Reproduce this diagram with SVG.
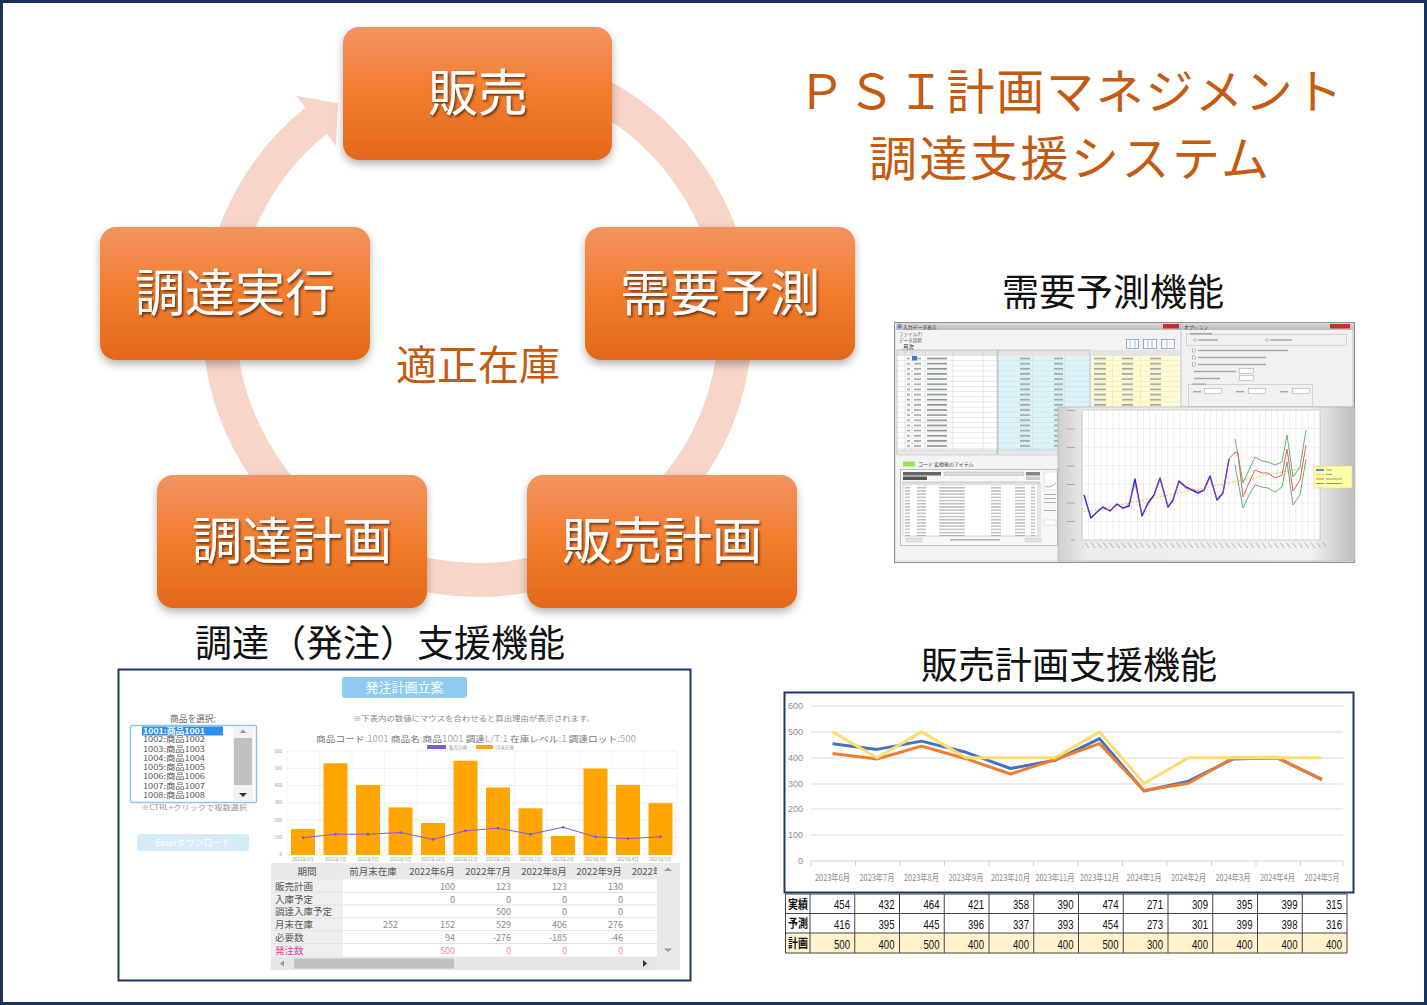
<svg xmlns="http://www.w3.org/2000/svg" width="1427" height="1005" viewBox="0 0 1427 1005">
<defs>
<style>
.jp{font-family:"Noto Sans CJK JP","Noto Sans",sans-serif}
.bt{font-size:50px;fill:#fff;text-anchor:middle;filter:url(#ts)}
.cap{font-size:37px;fill:#111;text-anchor:middle}
.ttl{font-size:48px;fill:#c55a11;text-anchor:middle}
.box{fill:url(#og);filter:url(#bs)}
.s2l{font-size:9.5px;fill:#555}
.s2v{font-size:9px;fill:#8a8a8a;text-anchor:end}
.s2h{font-size:9.5px;fill:#555;text-anchor:middle}
.s2i{font-size:7.5px;fill:#555}
.tiny{font-size:4.5px;fill:#999}
.s3y{font-size:9px;fill:#8c8c8c;text-anchor:end;font-family:"Liberation Sans",sans-serif}
.s3x{font-size:9px;fill:#8c8c8c;text-anchor:middle}
.s3v{font-size:13.5px;fill:#111;text-anchor:end;font-family:"Liberation Sans",sans-serif}
.s3l{font-size:12px;fill:#111;font-weight:bold;text-anchor:middle}
.bar{fill:#ffa500}
.gb{fill:#a0a8a8}
</style>
<linearGradient id="og" x1="0" y1="0" x2="0" y2="1">
<stop offset="0" stop-color="#f19460"/>
<stop offset="0.5" stop-color="#f27c2d"/>
<stop offset="1" stop-color="#e2691a"/>
</linearGradient>
<linearGradient id="tb" x1="0" y1="0" x2="0" y2="1">
<stop offset="0" stop-color="#d8d8d8"/>
<stop offset="1" stop-color="#bcbcbc"/>
</linearGradient>
<linearGradient id="cw" x1="0" y1="0" x2="1" y2="0">
<stop offset="0" stop-color="#cfcfcf"/>
<stop offset="0.1" stop-color="#ececec"/>
<stop offset="0.85" stop-color="#f2f2f2"/>
<stop offset="1" stop-color="#bdbdbd"/>
</linearGradient>
<filter id="bs" x="-10%" y="-10%" width="120%" height="130%">
<feDropShadow dx="0" dy="4" stdDeviation="4" flood-color="#000" flood-opacity="0.3"/>
</filter>
<filter id="ts" x="-10%" y="-10%" width="120%" height="130%">
<feDropShadow dx="1.5" dy="2" stdDeviation="1" flood-color="#000" flood-opacity="0.55"/>
</filter>
<pattern id="rowL" x="897" y="356" width="100" height="5.15" patternUnits="userSpaceOnUse">
<rect width="100" height="5.15" fill="#fff"/>
<rect y="4.7" width="100" height="0.45" fill="#cfcfcf"/>
<rect x="10" y="1.6" width="3" height="1.7" class="gb"/>
<rect x="17" y="1.6" width="7" height="1.7" class="gb"/>
<rect x="30" y="1.6" width="20" height="1.7" fill="#8c9494"/>
</pattern>
<pattern id="rowC" x="998" y="356" width="92" height="5.15" patternUnits="userSpaceOnUse">
<rect width="92" height="5.15" fill="#dcf3f8"/>
<rect y="4.7" width="92" height="0.45" fill="#c4dde2"/>
<rect x="22" y="1.6" width="10" height="1.7" class="gb"/>
<rect x="56" y="1.6" width="9" height="1.7" class="gb"/>
<rect x="66" y="0" width="0.5" height="5.15" fill="#c4dde2"/>
<rect x="34" y="0" width="0.5" height="5.15" fill="#c4dde2"/>
</pattern>
<pattern id="rowY" x="1092" y="356" width="88" height="5.15" patternUnits="userSpaceOnUse">
<rect width="88" height="5.15" fill="#fffbd4"/>
<rect y="4.7" width="88" height="0.45" fill="#e4e0b0"/>
<rect x="2" y="1.6" width="12" height="1.7" class="gb"/>
<rect x="30" y="1.6" width="11" height="1.7" class="gb"/>
<rect x="58" y="1.6" width="11" height="1.7" class="gb"/>
<rect x="20" y="0" width="0.5" height="5.15" fill="#e4e0b0"/>
<rect x="48" y="0" width="0.5" height="5.15" fill="#e4e0b0"/>
</pattern>
<pattern id="rowS" x="903" y="483" width="137" height="3.2" patternUnits="userSpaceOnUse">
<rect width="137" height="3.2" fill="#fff"/>
<rect x="2" y="1" width="5" height="1.1" fill="#a8a8a8"/>
<rect x="14" y="1" width="9" height="1.1" fill="#a8a8a8"/>
<rect x="36" y="1" width="26" height="1.1" fill="#a8a8a8"/>
<rect x="88" y="1" width="10" height="1.1" fill="#a8a8a8"/>
<rect x="112" y="1" width="10" height="1.1" fill="#a8a8a8"/>
<rect x="128" y="1" width="4" height="1.1" fill="#a8a8a8"/>
</pattern>
<pattern id="vg" x="1082" y="410" width="6.1" height="130" patternUnits="userSpaceOnUse">
<rect width="0.5" height="130" fill="#dcdcdc"/>
</pattern>
<pattern id="xl" x="1084" y="542" width="6.1" height="9" patternUnits="userSpaceOnUse">
<path d="M1 0.5L5 6" stroke="#999" stroke-width="0.8"/>
</pattern>
<clipPath id="tc"><rect x="271" y="863" width="386" height="94"/></clipPath>
</defs>

<rect x="0" y="0" width="1427" height="1005" fill="#fff"/>
<rect x="1.5" y="1.5" width="1424" height="1002" fill="none" stroke="#1b3358" stroke-width="3"/>

<g id="connectors">
<path d="M477.5 64 A258 258 0 1 1 316 120.8" fill="none" stroke="#f7d5c8" stroke-width="34"/>
<polygon points="296,95.8 337.8,103.3 336,145.8" fill="#f7d5c8"/>
</g>

<g id="node-hanbai" class="jp">
<rect class="box" x="343" y="27" width="269" height="133" rx="16"/>
<text class="bt" x="478" y="111">販売</text>
</g>
<g id="node-juyou-yosoku" class="jp">
<rect class="box" x="585" y="227" width="270" height="133" rx="16"/>
<text class="bt" x="720" y="311">需要予測</text>
</g>
<g id="node-hanbai-keikaku" class="jp">
<rect class="box" x="527" y="475" width="270" height="133" rx="16"/>
<text class="bt" x="662" y="559">販売計画</text>
</g>
<g id="node-chotatsu-keikaku" class="jp">
<rect class="box" x="157" y="475" width="270" height="133" rx="16"/>
<text class="bt" x="292" y="559">調達計画</text>
</g>
<g id="node-chotatsu-jikkou" class="jp">
<rect class="box" x="100" y="227" width="270" height="133" rx="16"/>
<text class="bt" x="235" y="311">調達実行</text>
</g>
<g id="label-tekisei" class="jp">
<text x="478" y="380" font-size="41" fill="#c55a11" text-anchor="middle">適正在庫</text>
</g>

<g id="title" class="jp">
<text class="ttl" x="1070" y="109" textLength="545">ＰＳＩ計画マネジメント</text>
<text class="ttl" x="1069" y="176" textLength="400">調達支援システム</text>
</g>

<g id="caption-demand" class="jp"><text class="cap" x="1113" y="306">需要予測機能</text></g>
<g id="caption-procure" class="jp"><text class="cap" x="380" y="657">調達（発注）支援機能</text></g>
<g id="caption-sales" class="jp"><text class="cap" x="1069" y="679">販売計画支援機能</text></g>

<!-- Screenshot 1: demand forecast -->
<g id="ss-demand" class="jp">
<rect x="894.5" y="322.5" width="460" height="240" fill="#e9e9e9" stroke="#8c8c8c"/>
<rect x="896" y="323" width="285" height="237" fill="#f3f3f3"/>
<rect x="896" y="323" width="285" height="7" fill="url(#tb)"/>
<rect x="897.5" y="324.2" width="4" height="4.2" fill="#5b8fd0"/>
<text x="903" y="328.6" font-size="4.8" fill="#333">入力データ表示</text>
<rect x="1163" y="324" width="16" height="4.5" fill="#c9302c"/>
<text x="899" y="336" font-size="4.5" fill="#555">ファイル(F)</text>
<text x="899" y="342" font-size="4.5" fill="#555">データ周期</text>
<text x="903" y="348.5" font-size="5.5" fill="#222">月次</text>
<rect x="1126.5" y="339.5" width="12" height="9" fill="#fff" stroke="#6a8fb8" stroke-width="0.7"/>
<rect x="1143.5" y="339.5" width="13" height="9" fill="#fff" stroke="#6a8fb8" stroke-width="0.7"/>
<rect x="1161.5" y="339.5" width="13" height="9" fill="#fff" stroke="#6a8fb8" stroke-width="0.7"/>
<path d="M1130 340V348M1135 340V348M1148 340V348M1152 340V348M1167 340V348" stroke="#6a8fb8" stroke-width="0.6"/>
<rect x="897" y="350" width="100" height="6" fill="#e4e4e4"/>
<rect x="897" y="356" width="100" height="98" fill="url(#rowL)"/>
<rect x="897" y="350" width="100" height="104" fill="none" stroke="#999" stroke-width="0.5"/>
<path d="M905 350V454M912 350V454M925 350V454M953 350V454M983 350V454" stroke="#c8c8c8" stroke-width="0.5"/>
<rect x="912" y="356" width="5" height="4.5" fill="#3a7bd5"/>
<rect x="998" y="350" width="92" height="6" fill="#e4e4e4"/>
<rect x="998" y="356" width="92" height="98" fill="url(#rowC)"/>
<rect x="998" y="350" width="92" height="104" fill="none" stroke="#999" stroke-width="0.5"/>
<rect x="1092" y="350" width="88" height="6" fill="#e4e4e4"/>
<rect x="1092" y="356" width="88" height="51" fill="url(#rowY)"/>
<rect x="897" y="450" width="100" height="5" fill="#e8e8e8" stroke="#aaa" stroke-width="0.4"/>
<rect x="998" y="450" width="60" height="5" fill="#e8e8e8" stroke="#aaa" stroke-width="0.4"/>
<rect x="903" y="461.5" width="12" height="5" fill="#9be34a"/>
<text x="918" y="466" font-size="5" fill="#444">コード 変換後のアイテム</text>
<rect x="900.5" y="469.5" width="157" height="76" fill="#f7f7f7" stroke="#999" stroke-width="0.6"/>
<rect x="903" y="472" width="38" height="3.5" fill="#666"/>
<rect x="944" y="472" width="80" height="3.5" fill="#ddd" stroke="#888" stroke-width="0.3"/>
<rect x="1026" y="472" width="14" height="3.5" fill="#888"/>
<rect x="903" y="476.5" width="24" height="3.5" fill="#555"/>
<rect x="1026" y="476.5" width="14" height="3.5" fill="#ccc"/>
<rect x="903" y="482" width="137" height="3" fill="#e0e0e0"/>
<rect x="903" y="485" width="137" height="51" fill="url(#rowS)"/>
<rect x="903" y="482" width="137" height="54" fill="none" stroke="#999" stroke-width="0.4"/>
<rect x="1037" y="485" width="3" height="51" fill="#e4e4e4"/>
<rect x="906" y="538" width="16" height="4" fill="#e4e4e4" stroke="#aaa" stroke-width="0.3"/>
<rect x="950" y="539" width="50" height="1.5" fill="#b0b0b0"/>
<rect x="1025" y="538" width="16" height="4" fill="#e4e4e4" stroke="#aaa" stroke-width="0.3"/>
<rect x="1044" y="472" width="13" height="18" fill="#fff" stroke="#aaa" stroke-width="0.3"/>
<path d="M1045 486Q1049 489 1056 483" stroke="#7a5cc8" stroke-width="0.6" fill="none"/>
<rect x="1044" y="494" width="12" height="1" fill="#b0b0b0"/>
<rect x="1044" y="498" width="12" height="1" fill="#b0b0b0"/>
<rect x="1044" y="502" width="12" height="1" fill="#b0b0b0"/>
<rect x="1044" y="510" width="12" height="1" fill="#b0b0b0"/>
<rect x="1044" y="520" width="12" height="5" fill="#fff" stroke="#aaa" stroke-width="0.3"/>
<rect x="1181" y="323" width="172" height="84" fill="#f1f1f1" stroke="#9a9a9a" stroke-width="0.5"/>
<rect x="1181" y="323" width="172" height="7" fill="url(#tb)"/>
<text x="1184" y="328.6" font-size="4.8" fill="#333">オプション</text>
<rect x="1330" y="324" width="20" height="4.5" fill="#c9302c"/>
<rect x="1186.5" y="334.5" width="160" height="11" fill="none" stroke="#b5b5b5" stroke-width="0.5"/>
<rect x="1190" y="333" width="22" height="1.5" class="gb"/>
<circle cx="1195" cy="340" r="1.3" fill="#fff" stroke="#666" stroke-width="0.4"/>
<rect x="1198" y="339.3" width="20" height="1.4" class="gb"/>
<circle cx="1267" cy="340" r="1.3" fill="#fff" stroke="#666" stroke-width="0.4"/>
<rect x="1270" y="339.3" width="22" height="1.4" class="gb"/>
<rect x="1192.5" y="349" width="3" height="3" fill="#fff" stroke="#666" stroke-width="0.4"/>
<rect x="1198" y="349.8" width="90" height="1.4" class="gb"/>
<rect x="1192.5" y="356" width="3" height="3" fill="#fff" stroke="#666" stroke-width="0.4"/>
<rect x="1198" y="356.8" width="68" height="1.4" class="gb"/>
<rect x="1192.5" y="363" width="3" height="3" fill="#fff" stroke="#666" stroke-width="0.4"/>
<rect x="1198" y="363.8" width="68" height="1.4" class="gb"/>
<rect x="1194" y="370.8" width="42" height="1.4" class="gb"/>
<rect x="1239.5" y="368.5" width="14" height="5" fill="#fff" stroke="#888" stroke-width="0.4"/>
<rect x="1194" y="377.8" width="26" height="1.4" class="gb"/>
<rect x="1239.5" y="375.5" width="14" height="5" fill="#fff" stroke="#888" stroke-width="0.4"/>
<rect x="1188.5" y="384.5" width="124" height="22" fill="none" stroke="#b5b5b5" stroke-width="0.5"/>
<rect x="1192" y="383.4" width="14" height="1.4" class="gb"/>
<rect x="1193" y="391" width="8" height="1.4" class="gb"/>
<rect x="1204.5" y="388.5" width="17" height="5" fill="#fff" stroke="#888" stroke-width="0.4"/>
<rect x="1236" y="391" width="8" height="1.4" class="gb"/>
<rect x="1248.5" y="388.5" width="17" height="5" fill="#fff" stroke="#888" stroke-width="0.4"/>
<rect x="1280" y="391" width="8" height="1.4" class="gb"/>
<rect x="1292.5" y="388.5" width="17" height="5" fill="#fff" stroke="#888" stroke-width="0.4"/>
<rect x="1058" y="407" width="297" height="154" fill="url(#cw)" stroke="#aaa" stroke-width="0.6"/>
<rect x="1082" y="410" width="238" height="130" fill="#fff" stroke="#b0b0b0" stroke-width="0.6"/>
<rect x="1082" y="410" width="238" height="130" fill="url(#vg)"/>
<path d="M1082 428.6H1320M1082 447.1H1320M1082 465.7H1320M1082 484.3H1320M1082 502.9H1320M1082 521.4H1320" stroke="#dcdcdc" stroke-width="0.5"/>
<path d="M1067 410.5h8M1067 429h8M1067 447.5h8M1067 466h8M1067 484.5h8M1067 503h8M1067 521.5h8M1071 540h4" stroke="#a8a8a8" stroke-width="1.2"/>
<rect x="1082" y="542" width="244" height="8" fill="url(#xl)"/>
<polyline points="1084,512 1307,467" fill="none" stroke="#b9d53a" stroke-width="0.9" stroke-dasharray="2 1.5"/>
<polyline points="1084,495 1091,518 1097,512 1103,507 1110,511 1117,504 1123,508 1129,506 1135,479 1142,516 1148,503 1154,495 1160,478 1168,507 1173,500 1179,481 1186,487 1192,490 1198,493 1204,490 1210,476 1217,500 1223,493 1229,459" fill="none" stroke="#2a2ae0" stroke-width="1.4" stroke-linejoin="round"/>
<polyline points="1103,509 1110,510 1117,505 1123,509 1129,503 1135,484 1142,514 1148,505 1154,496 1160,479 1168,506 1173,499 1179,482 1186,489 1192,489 1198,491 1204,491 1210,478 1217,499 1223,492 1229,460" fill="none" stroke="#e0506a" stroke-width="1" stroke-opacity="0.6" stroke-linejoin="round"/>
<polyline points="1235,439 1243,483 1249,470 1255,457 1262,461 1268,462 1275,465 1282,462 1287,435 1293,477 1300,467 1306,430" fill="none" stroke="#5aa865" stroke-width="0.9" stroke-linejoin="round"/>
<polyline points="1235,465 1243,508 1249,495 1255,485 1262,487 1268,488 1275,492 1282,487 1287,462 1293,505 1300,495 1306,459" fill="none" stroke="#5aa865" stroke-width="0.9" stroke-linejoin="round"/>
<polyline points="1229,459 1235,452 1238,453 1243,497 1248,485 1255,470 1262,473 1268,473 1275,478 1282,475 1287,449 1293,491 1300,480 1306,445" fill="none" stroke="#ee5a5a" stroke-width="1" stroke-linejoin="round"/>
<rect x="1314" y="466" width="38" height="22" fill="#ffffa8" stroke="#d6d680" stroke-width="0.5"/>
<path d="M1316 470h8" stroke="#2a2ae0" stroke-width="1.2"/>
<path d="M1316 474.5h8" stroke="#b9d53a" stroke-width="0.9" stroke-dasharray="2 1"/>
<path d="M1316 479h8" stroke="#ee5a5a" stroke-width="0.9"/>
<path d="M1316 483.5h8" stroke="#5aa865" stroke-width="0.9"/>
<path d="M1326 470h6M1326 474.5h6M1326 479h16M1326 483.5h16" stroke="#999" stroke-width="1"/>
</g>

<!-- Screenshot 2: procurement -->
<g id="ss-procure" class="jp">
<rect x="118.5" y="669.5" width="572" height="311" fill="#fff" stroke="#1f3864" stroke-width="2"/>
<rect x="342" y="677" width="125" height="21" rx="3" fill="#8ecbf0"/>
<text x="404.5" y="692" font-size="13" fill="#fff" text-anchor="middle">発注計画立案</text>
<text x="193" y="722" font-size="8.7" fill="#666" text-anchor="middle">商品を選択:</text>
<rect x="130.5" y="725.5" width="126" height="77" rx="2" fill="#fff" stroke="#8cc4ea" stroke-width="1.5"/>
<rect x="142" y="726.5" width="81" height="9" fill="#2f8ff0"/>
<text x="143" y="733.5" font-size="7.5" fill="#fff" font-weight="bold" textLength="62" lengthAdjust="spacingAndGlyphs">1001:商品1001</text>
<text class="s2i" x="143" y="742" textLength="62" lengthAdjust="spacingAndGlyphs">1002:商品1002</text>
<text class="s2i" x="143" y="751.5" textLength="62" lengthAdjust="spacingAndGlyphs">1003:商品1003</text>
<text class="s2i" x="143" y="760.5" textLength="62" lengthAdjust="spacingAndGlyphs">1004:商品1004</text>
<text class="s2i" x="143" y="770" textLength="62" lengthAdjust="spacingAndGlyphs">1005:商品1005</text>
<text class="s2i" x="143" y="779" textLength="62" lengthAdjust="spacingAndGlyphs">1006:商品1006</text>
<text class="s2i" x="143" y="788.5" textLength="62" lengthAdjust="spacingAndGlyphs">1007:商品1007</text>
<text class="s2i" x="143" y="797.5" textLength="62" lengthAdjust="spacingAndGlyphs">1008:商品1008</text>
<rect x="233" y="727" width="20" height="74" fill="#f2f2f2"/>
<rect x="234" y="738" width="18" height="47" fill="#c1c1c1"/>
<polygon points="239.5,733 243,729.5 246.5,733" fill="#999"/>
<polygon points="239,793 243,797 247,793" fill="#333"/>
<text x="141" y="809.5" font-size="7" fill="#999" textLength="106" lengthAdjust="spacingAndGlyphs">※CTRL+クリックで複数選択</text>
<rect x="137" y="834" width="112" height="17" rx="3" fill="#d6ebf9"/>
<text x="193" y="845.5" font-size="9" fill="#fff" text-anchor="middle">Excelダウンロード</text>
<text x="353" y="720.5" font-size="7" fill="#888" textLength="242" lengthAdjust="spacingAndGlyphs">※下表内の数値にマウスを合わせると算出理由が表示されます。</text>
<text x="316" y="741.5" font-size="8.5" fill="#777" textLength="320" lengthAdjust="spacingAndGlyphs">商品コード<tspan fill="#aaa">:1001 </tspan>商品名<tspan fill="#aaa">:</tspan>商品<tspan fill="#aaa">1001 </tspan>調達<tspan fill="#aaa">L/T:1 </tspan>在庫レベル<tspan fill="#aaa">:1 </tspan>調達ロット<tspan fill="#aaa">:500</tspan></text>
<rect x="427" y="745" width="19" height="4" fill="#7b5ce6"/>
<text class="tiny" x="449" y="749">販売計画</text>
<rect x="476" y="745" width="17" height="4" fill="#ffa500"/>
<text class="tiny" x="496" y="749">月末在庫</text>
<path d="M287 751H677M287 768.3H677M287 785.6H677M287 802.9H677M287 820.2H677M287 837.5H677M287 854.8H677" stroke="#e8e8e8" stroke-width="0.7"/>
<path d="M287 751V855M319.5 751V855M352 751V855M384.5 751V855M417 751V855M449.5 751V855M482 751V855M514.5 751V855M547 751V855M579.5 751V855M612 751V855M644.5 751V855M677 751V855" stroke="#efefef" stroke-width="0.7"/>
<g class="tiny" text-anchor="end">
<text x="282" y="752.5">600</text><text x="282" y="769.8">500</text><text x="282" y="787.1">400</text><text x="282" y="804.4">300</text><text x="282" y="821.7">200</text><text x="282" y="839">100</text><text x="282" y="856.3">0</text>
</g>
<rect class="bar" x="291" y="829" width="24" height="26"/>
<rect class="bar" x="323.5" y="763.3" width="24" height="91.7"/>
<rect class="bar" x="356" y="784.9" width="24" height="70.1"/>
<rect class="bar" x="388.5" y="807.4" width="24" height="47.6"/>
<rect class="bar" x="421" y="823" width="24" height="32"/>
<rect class="bar" x="453.5" y="760.7" width="24" height="94.3"/>
<rect class="bar" x="486" y="787.5" width="24" height="67.5"/>
<rect class="bar" x="518.5" y="808.3" width="24" height="46.7"/>
<rect class="bar" x="551" y="836" width="24" height="19"/>
<rect class="bar" x="583.5" y="768.5" width="24" height="86.5"/>
<rect class="bar" x="616" y="784.9" width="24" height="70.1"/>
<rect class="bar" x="648.5" y="803.1" width="24" height="51.9"/>
<polyline points="303,837.7 335.5,834.2 368,834.2 400.5,832.5 433,839.4 465.5,830.8 498,828.2 530.5,834.2 563,827.3 595.5,836.8 628,838.6 660.5,836.8" fill="none" stroke="#7b5ce6" stroke-width="1"/>
<g fill="#6a4fd0">
<circle cx="303" cy="837.7" r="1.2"/><circle cx="335.5" cy="834.2" r="1.2"/><circle cx="368" cy="834.2" r="1.2"/><circle cx="400.5" cy="832.5" r="1.2"/><circle cx="433" cy="839.4" r="1.2"/><circle cx="465.5" cy="830.8" r="1.2"/><circle cx="498" cy="828.2" r="1.2"/><circle cx="530.5" cy="834.2" r="1.2"/><circle cx="563" cy="827.3" r="1.2"/><circle cx="595.5" cy="836.8" r="1.2"/><circle cx="628" cy="838.6" r="1.2"/><circle cx="660.5" cy="836.8" r="1.2"/>
</g>
<g class="tiny" text-anchor="middle">
<text x="303" y="860.5">2022年6月</text><text x="335.5" y="860.5">2022年7月</text><text x="368" y="860.5">2022年8月</text><text x="400.5" y="860.5">2022年9月</text><text x="433" y="860.5">2022年10月</text><text x="465.5" y="860.5">2022年11月</text><text x="498" y="860.5">2022年12月</text><text x="530.5" y="860.5">2023年1月</text><text x="563" y="860.5">2023年2月</text><text x="595.5" y="860.5">2023年3月</text><text x="628" y="860.5">2023年4月</text><text x="660.5" y="860.5">2023年5月</text>
</g>
<rect x="271" y="863" width="409" height="107" fill="#e9e9e9"/>
<rect x="343" y="879.5" width="314" height="77" fill="#fff"/>
<rect x="271" y="879.5" width="72" height="77" fill="#efefef"/>
<path d="M271 892.3H657M271 905.1H657M271 917.9H657M271 930.7H657M271 943.5H657" stroke="#e2e2e2" stroke-width="1"/>
<g clip-path="url(#tc)">
<text class="s2h" x="307" y="875">期間</text>
<text class="s2h" x="373" y="875">前月末在庫</text>
<text class="s2h" x="432" y="875">2022年6月</text>
<text class="s2h" x="488" y="875">2022年7月</text>
<text class="s2h" x="544" y="875">2022年8月</text>
<text class="s2h" x="599" y="875">2022年9月</text>
<text class="s2h" x="657" y="875">2022年10月</text>
</g>
<polygon points="664,871 668,867.5 672,871" fill="#999"/>
<polygon points="664,948.5 668,952 672,948.5" fill="#999"/>
<text class="s2l" x="275" y="889.5">販売計画</text>
<text class="s2l" x="275" y="902.5">入庫予定</text>
<text class="s2l" x="275" y="915">調達入庫予定</text>
<text class="s2l" x="275" y="928">月末在庫</text>
<text class="s2l" x="275" y="940.5">必要数</text>
<text x="275" y="953.5" font-size="9.5" fill="#f0359a">発注数</text>
<text class="s2v" x="455" y="889.5">100</text><text class="s2v" x="511" y="889.5">123</text><text class="s2v" x="567" y="889.5">123</text><text class="s2v" x="623" y="889.5">130</text>
<text class="s2v" x="455" y="902.5">0</text><text class="s2v" x="511" y="902.5">0</text><text class="s2v" x="567" y="902.5">0</text><text class="s2v" x="623" y="902.5">0</text>
<text class="s2v" x="511" y="915">500</text><text class="s2v" x="567" y="915">0</text><text class="s2v" x="623" y="915">0</text>
<text class="s2v" x="398" y="928">252</text><text class="s2v" x="455" y="928">152</text><text class="s2v" x="511" y="928">529</text><text class="s2v" x="567" y="928">406</text><text class="s2v" x="623" y="928">276</text>
<text class="s2v" x="455" y="940.5">94</text><text class="s2v" x="511" y="940.5">-276</text><text class="s2v" x="567" y="940.5">-185</text><text class="s2v" x="623" y="940.5">-46</text>
<g fill="#f77fbf" font-size="9" text-anchor="end">
<text x="455" y="953.5">500</text><text x="511" y="953.5">0</text><text x="567" y="953.5">0</text><text x="623" y="953.5">0</text>
</g>
<rect x="271" y="957" width="386" height="13" fill="#e6e6e6"/>
<rect x="294" y="958.5" width="160" height="10" fill="#c1c1c1"/>
<polygon points="280,963.5 284,960.5 284,966.5" fill="#999"/>
<polygon points="643,960 647,963.5 643,967" fill="#333"/>
</g>

<!-- Screenshot 3: sales plan -->
<g id="ss-sales" class="jp">
<rect x="784.5" y="692.5" width="569" height="200" fill="#fff" stroke="#1f3864" stroke-width="2"/>
<path d="M811 706H1343M811 732H1343M811 758H1343M811 784H1343M811 809H1343M811 835H1343" stroke="#d9d9d9" stroke-width="1"/>
<path d="M811 861H1343M811 861v5M855.5 861v5M900 861v5M944.5 861v5M989 861v5M1033.5 861v5M1078 861v5M1122.5 861v5M1167 861v5M1211.5 861v5M1256 861v5M1300.5 861v5M1343 861v5" stroke="#d0d0d0" stroke-width="1"/>
<text class="s3y" x="803" y="709">600</text><text class="s3y" x="803" y="735">500</text><text class="s3y" x="803" y="761">400</text><text class="s3y" x="803" y="787">300</text><text class="s3y" x="803" y="812">200</text><text class="s3y" x="803" y="838">100</text><text class="s3y" x="803" y="864">0</text>
<g class="s3x">
<text x="832.5" y="881" textLength="35" lengthAdjust="spacingAndGlyphs">2023年6月</text>
<text x="877" y="881" textLength="35" lengthAdjust="spacingAndGlyphs">2023年7月</text>
<text x="921.5" y="881" textLength="35" lengthAdjust="spacingAndGlyphs">2023年8月</text>
<text x="966" y="881" textLength="35" lengthAdjust="spacingAndGlyphs">2023年9月</text>
<text x="1010.5" y="881" textLength="39" lengthAdjust="spacingAndGlyphs">2023年10月</text>
<text x="1055" y="881" textLength="39" lengthAdjust="spacingAndGlyphs">2023年11月</text>
<text x="1099.5" y="881" textLength="39" lengthAdjust="spacingAndGlyphs">2023年12月</text>
<text x="1144" y="881" textLength="35" lengthAdjust="spacingAndGlyphs">2024年1月</text>
<text x="1188.5" y="881" textLength="35" lengthAdjust="spacingAndGlyphs">2024年2月</text>
<text x="1233" y="881" textLength="35" lengthAdjust="spacingAndGlyphs">2024年3月</text>
<text x="1277.5" y="881" textLength="35" lengthAdjust="spacingAndGlyphs">2024年4月</text>
<text x="1322" y="881" textLength="35" lengthAdjust="spacingAndGlyphs">2024年5月</text>
</g>
<polyline points="832.5,743.7 877,749.4 921.5,741.1 966,752.3 1010.5,768.5 1055,760.3 1099.5,738.6 1144,791 1188.5,781.2 1233,759 1277.5,757.9 1322,779.6" fill="none" stroke="#4472c4" stroke-width="3" stroke-linejoin="round"/>
<polyline points="832.5,753.5 877,759 921.5,746.1 966,758.7 1010.5,774 1055,759.5 1099.5,743.7 1144,790.5 1188.5,783.2 1233,757.9 1277.5,758.2 1322,779.4" fill="none" stroke="#ed7d31" stroke-width="3" stroke-linejoin="round"/>
<polyline points="832.5,731.9 877,757.7 921.5,731.9 966,757.7 1010.5,757.7 1055,757.7 1099.5,731.9 1144,783.5 1188.5,757.7 1233,757.7 1277.5,757.7 1322,757.7" fill="none" stroke="#ffdc6e" stroke-width="3" stroke-linejoin="round"/>
<rect x="785.5" y="894" width="561.5" height="59" fill="#fff"/>
<rect x="785.5" y="933" width="561.5" height="20" fill="#fff2cc"/>
<path d="M785.5 894H1347M785.5 913.5H1347M785.5 933H1347M785.5 953H1347M785.5 894V953M810 894V953M854.75 894V953M899.5 894V953M944.25 894V953M989 894V953M1033.75 894V953M1078.5 894V953M1123.25 894V953M1168 894V953M1212.75 894V953M1257.5 894V953M1302.25 894V953M1347 894V953" stroke="#444" stroke-width="1" fill="none"/>
<text class="s3l" x="798" y="908.5" textLength="20" lengthAdjust="spacingAndGlyphs">実績</text>
<text class="s3l" x="798" y="928" textLength="20" lengthAdjust="spacingAndGlyphs">予測</text>
<text class="s3l" x="798" y="948" textLength="20" lengthAdjust="spacingAndGlyphs">計画</text>
<g class="s3v">
<text x="850" y="909" textLength="16" lengthAdjust="spacingAndGlyphs">454</text><text x="894.5" y="909" textLength="16" lengthAdjust="spacingAndGlyphs">432</text><text x="939.5" y="909" textLength="16" lengthAdjust="spacingAndGlyphs">464</text><text x="984" y="909" textLength="16" lengthAdjust="spacingAndGlyphs">421</text><text x="1029" y="909" textLength="16" lengthAdjust="spacingAndGlyphs">358</text><text x="1073.5" y="909" textLength="16" lengthAdjust="spacingAndGlyphs">390</text><text x="1118.5" y="909" textLength="16" lengthAdjust="spacingAndGlyphs">474</text><text x="1163" y="909" textLength="16" lengthAdjust="spacingAndGlyphs">271</text><text x="1208" y="909" textLength="16" lengthAdjust="spacingAndGlyphs">309</text><text x="1252.5" y="909" textLength="16" lengthAdjust="spacingAndGlyphs">395</text><text x="1297.5" y="909" textLength="16" lengthAdjust="spacingAndGlyphs">399</text><text x="1342" y="909" textLength="16" lengthAdjust="spacingAndGlyphs">315</text>
<text x="850" y="928.5" textLength="16" lengthAdjust="spacingAndGlyphs">416</text><text x="894.5" y="928.5" textLength="16" lengthAdjust="spacingAndGlyphs">395</text><text x="939.5" y="928.5" textLength="16" lengthAdjust="spacingAndGlyphs">445</text><text x="984" y="928.5" textLength="16" lengthAdjust="spacingAndGlyphs">396</text><text x="1029" y="928.5" textLength="16" lengthAdjust="spacingAndGlyphs">337</text><text x="1073.5" y="928.5" textLength="16" lengthAdjust="spacingAndGlyphs">393</text><text x="1118.5" y="928.5" textLength="16" lengthAdjust="spacingAndGlyphs">454</text><text x="1163" y="928.5" textLength="16" lengthAdjust="spacingAndGlyphs">273</text><text x="1208" y="928.5" textLength="16" lengthAdjust="spacingAndGlyphs">301</text><text x="1252.5" y="928.5" textLength="16" lengthAdjust="spacingAndGlyphs">399</text><text x="1297.5" y="928.5" textLength="16" lengthAdjust="spacingAndGlyphs">398</text><text x="1342" y="928.5" textLength="16" lengthAdjust="spacingAndGlyphs">316</text>
<text x="850" y="948.5" textLength="16" lengthAdjust="spacingAndGlyphs">500</text><text x="894.5" y="948.5" textLength="16" lengthAdjust="spacingAndGlyphs">400</text><text x="939.5" y="948.5" textLength="16" lengthAdjust="spacingAndGlyphs">500</text><text x="984" y="948.5" textLength="16" lengthAdjust="spacingAndGlyphs">400</text><text x="1029" y="948.5" textLength="16" lengthAdjust="spacingAndGlyphs">400</text><text x="1073.5" y="948.5" textLength="16" lengthAdjust="spacingAndGlyphs">400</text><text x="1118.5" y="948.5" textLength="16" lengthAdjust="spacingAndGlyphs">500</text><text x="1163" y="948.5" textLength="16" lengthAdjust="spacingAndGlyphs">300</text><text x="1208" y="948.5" textLength="16" lengthAdjust="spacingAndGlyphs">400</text><text x="1252.5" y="948.5" textLength="16" lengthAdjust="spacingAndGlyphs">400</text><text x="1297.5" y="948.5" textLength="16" lengthAdjust="spacingAndGlyphs">400</text><text x="1342" y="948.5" textLength="16" lengthAdjust="spacingAndGlyphs">400</text>
</g>
</g>
</svg>
